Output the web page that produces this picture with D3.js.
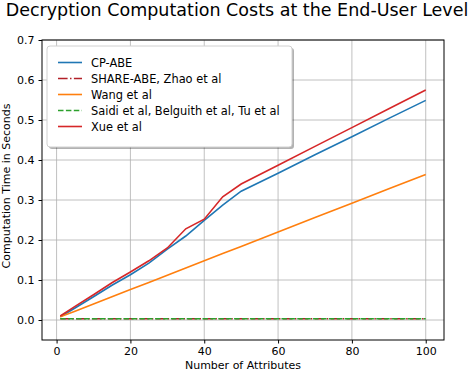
<!DOCTYPE html>
<html><head><meta charset="utf-8">
<script src="https://cdn.jsdelivr.net/npm/d3@7"></script>
<style>body{margin:0;background:#fff}svg{display:block;font-family:"DejaVu Sans",sans-serif}</style>
</head><body><svg id="c" width="474" height="372"></svg>
<script>
const attrs = [1,5,10,15,20,25,30,35,40,45,50,60,70,80,90,100];
const cpabe = [0.008,0.03,0.058,0.087,0.113,0.142,0.177,0.21,0.249,0.287,0.322,0.367,0.413,0.458,0.504,0.549];
const shareAbe = [0.003,0.003,0.003,0.003,0.003,0.003,0.003,0.003,0.003,0.003,0.003,0.003,0.003,0.003,0.003,0.003];
const wang = [0.008,0.022,0.04,0.058,0.076,0.094,0.112,0.13,0.148,0.166,0.184,0.22,0.256,0.292,0.328,0.364];
const saidi = [0.003,0.003,0.003,0.003,0.003,0.003,0.003,0.003,0.003,0.003,0.003,0.003,0.003,0.003,0.003,0.003];
const xue = [0.01,0.034,0.063,0.093,0.12,0.148,0.18,0.228,0.252,0.308,0.34,0.387,0.434,0.481,0.528,0.575];
const xTicks = [0,20,40,60,80,100];
const yTicks = [0.0,0.1,0.2,0.3,0.4,0.5,0.6,0.7];
const seriesNames = ["CP-ABE","SHARE-ABE, Zhao et al","Wang et al","Saidi et al, Belguith et al, Tu et al","Xue et al"];

const series = [
  {name:seriesNames[0], vals:cpabe, color:"#1f77b4", dash:null},
  {name:seriesNames[1], vals:shareAbe, color:"#b22028", dash:"9.6,2.4,1.5,2.4"},
  {name:seriesNames[2], vals:wang, color:"#ff7f0e", dash:null},
  {name:seriesNames[3], vals:saidi, color:"#2ca02c", dash:"5.5,2.4"},
  {name:seriesNames[4], vals:xue, color:"#d62728", dash:null}
];

const svg = d3.select("#c");
const L=42, R=444, T=40, B=340;
const x = d3.scaleLinear().domain([-3.95,104.95]).range([L,R]);
const y = d3.scaleLinear().domain([-0.05,0.7]).range([B,T]);

// grid
const g = svg.append("g");
g.selectAll(".vx").data(xTicks).join("line")
  .attr("x1",d=>x(d)).attr("x2",d=>x(d)).attr("y1",T).attr("y2",B)
  .attr("stroke","#b0b0b0").attr("stroke-width",0.8);
g.selectAll(".hy").data(yTicks).join("line")
  .attr("y1",d=>y(d)).attr("y2",d=>y(d)).attr("x1",L).attr("x2",R)
  .attr("stroke","#b0b0b0").attr("stroke-width",0.8);

// lines
const line = d3.line().x((d,i)=>x(attrs[i])).y(d=>y(d));
series.forEach(s=>{
  svg.append("path").datum(s.vals).attr("d",line)
    .attr("fill","none").attr("stroke",s.color).attr("stroke-width",1.6)
    .attr("stroke-dasharray",s.dash);
});

// frame
svg.append("rect").attr("x",L).attr("y",T).attr("width",R-L).attr("height",B-T)
  .attr("fill","none").attr("stroke","#000").attr("stroke-width",1);

// axes
const xa = svg.append("g").attr("transform",`translate(0,${B})`)
  .call(d3.axisBottom(x).tickValues(xTicks).tickSize(3.5).tickPadding(4).tickFormat(d3.format("d")));
const ya = svg.append("g").attr("transform",`translate(${L},0)`)
  .call(d3.axisLeft(y).tickValues(yTicks).tickSize(3.5).tickPadding(4).tickFormat(d3.format(".1f")));
[xa,ya].forEach(a=>{
  a.select(".domain").remove();
  a.selectAll("text").attr("font-size",11).attr("fill","#000").attr("font-family","DejaVu Sans");
  a.selectAll("line").attr("stroke","#000");
});

// labels
svg.append("text").attr("x",237).attr("y",16).attr("text-anchor","middle")
  .attr("font-size",17.5).text("Decryption Computation Costs at the End-User Level");
svg.append("text").attr("x",(L+R)/2).attr("y",368.5).attr("text-anchor","middle")
  .attr("font-size",11).text("Number of Attributes");
svg.append("text").attr("transform",`translate(10,${(T+B)/2 - 4}) rotate(-90)`).attr("text-anchor","middle")
  .attr("font-size",11).text("Computation Time in Seconds");

// legend
const lx=47, ly=46, lw=245, lh=101;
svg.append("rect").attr("x",lx+2).attr("y",ly+2).attr("width",lw).attr("height",lh).attr("rx",3)
  .attr("fill","#000").attr("opacity",0.3);
svg.append("rect").attr("x",lx).attr("y",ly).attr("width",lw).attr("height",lh).attr("rx",3)
  .attr("fill","#fff").attr("stroke","#d0d0d0").attr("stroke-width",1);
series.forEach((s,i)=>{
  const yy = ly+16.5+i*16;
  svg.append("line").attr("x1",lx+11).attr("x2",lx+35).attr("y1",yy).attr("y2",yy)
    .attr("stroke",s.color).attr("stroke-width",1.6).attr("stroke-dasharray",s.dash);
  svg.append("text").attr("x",lx+44).attr("y",yy+4).attr("font-size",11.4).text(s.name);
});
</script></body></html>
